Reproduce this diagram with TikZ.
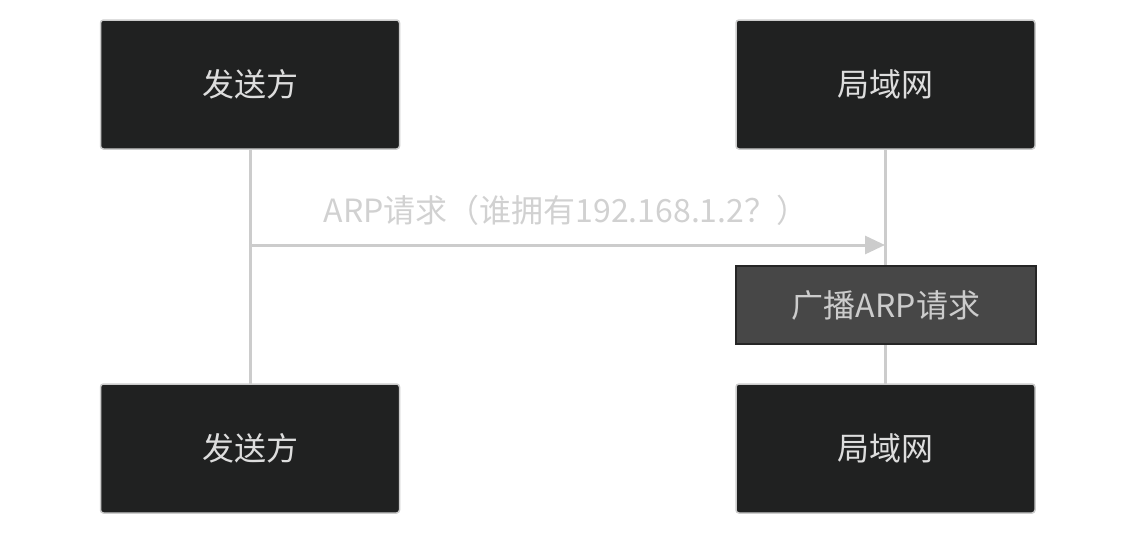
\documentclass[tikz,border=0pt]{standalone}
\usepackage{fontspec}
\setmainfont{Noto Sans CJK SC}
\usetikzlibrary{arrows.meta}
\definecolor{boxfill}{HTML}{202121}
\definecolor{linegray}{HTML}{CCCCCC}
\definecolor{notefill}{HTML}{474747}
\definecolor{txt}{HTML}{DDDDDD}
\tikzset{
  actor/.style={draw=linegray, fill=boxfill, line width=1.5pt, rounded corners=3pt,
    minimum width=299pt, minimum height=129pt, inner sep=0pt, text=txt,
    font=\fontsize{32pt}{38pt}\selectfont},
  life/.style={draw=linegray, line width=3pt},
  msg/.style={draw=linegray, line width=3pt, -{Triangle[length=20pt,width=18pt]}},
  note/.style={draw=black!85, fill=notefill, line width=1.5pt, minimum width=300pt,
    minimum height=78pt, inner sep=0pt, text=linegray, font=\fontsize{32pt}{38pt}\selectfont},
  lbl/.style={text=linegray!90, font=\fontsize{32pt}{38pt}\selectfont, inner sep=0pt}
}
\begin{document}
\begin{tikzpicture}[x=1pt,y=-1pt]
\useasboundingbox (0,0) rectangle (1136,536);
\coordinate (s1) at (250,149);
\coordinate (s2) at (250,384);
\coordinate (l1) at (885,149);
\coordinate (l2) at (885,384);
\draw[life] (s1) -- (s2);
\draw[life] (l1) -- (l2);
\node[actor] (st) at (250,84.5) {发送方};
\node[actor] (lt) at (885.5,84.5) {局域网};
\node[actor] (sb) at (250,448.5) {发送方};
\node[actor] (lb) at (885.5,448.5) {局域网};
\coordinate (a1) at (250,245);
\coordinate (a2) at (885,245);
\draw[msg] (a1) -- (a2);
\node[lbl] (ml) at (566,210) {ARP请求（谁拥有192.168.1.2？）};
\node[note] (nt) at (886,305) {广播ARP请求};
\end{tikzpicture}
\end{document}
